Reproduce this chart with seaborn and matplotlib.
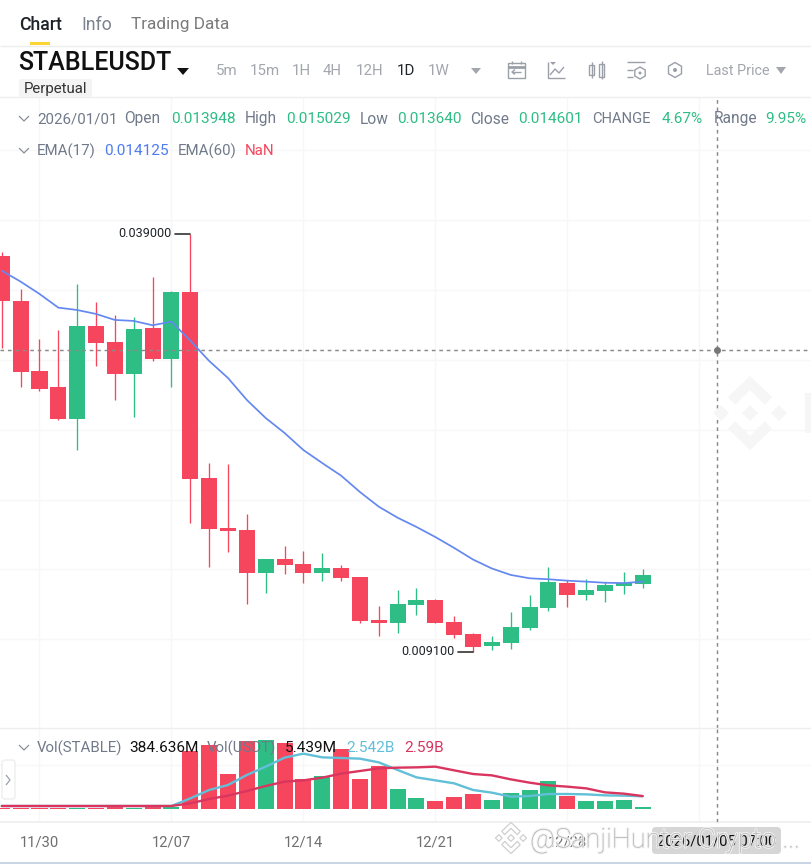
import matplotlib
matplotlib.use('Agg')
import matplotlib.pyplot as plt
from matplotlib.patches import Polygon, Rectangle, FancyBboxPatch, RegularPolygon, Circle
import matplotlib.patheffects as pe
import pandas as pd
import seaborn as sns

# day number 0 is 11/30
days = list(range(-2, 33))
opens = [.03744, .03418, .02919, .02807, .02574, .03243, .03124, .02896, .03224, .03005,
         .03482, .02152, .01794, .01780, .01473, .01577, .01541, .01473, .01513, .01446,
         .01139, .01115, .01246, .01282, .01127, .01037, .00951, .00974, .01084, .01227,
         .01405, .01318, .01348, .01380, .013948]
closes = [.03420, .02910, .02790, .02574, .03243, .03117, .02898, .03219, .03005, .03482,
          .02145, .01787, .01773, .01473, .01577, .01534, .01473, .01513, .01439, .01132,
          .01115, .01253, .01284, .01119, .01029, .00948, .00982, .01091, .01232, .01408,
          .01320, .01355, .01387, .01403, .014601]
highs = [.03772, .03505, .03146, .03210, .03541, .03413, .03320, .03303, .03589, .03491,
         .03900, .02259, .02254, .01897, .01577, .01670, .01630, .01616, .01532, .01448,
         .01241, .01351, .01365, .01289, .01167, .01048, .01024, .01198, .01318, .01520,
         .01425, .01432, .01408, .01480, .015029]
lows = [.03086, .02803, .02776, .02570, .02354, .02955, .02710, .02592, .02991, .02805,
        .01830, .01520, .01623, .01253, .01334, .01470, .01403, .01416, .01420, .01119,
        .01027, .01044, .01175, .01117, .01008, .00910, .00924, .00934, .01067, .01205,
        .01230, .01284, .01270, .01323, .013640]
ema17 = [.03636, .03558, .03470, .03372, .03355, .03327, .03284, .03277, .03246, .03272,
         .03136, .02991, .02869, .02712, .02583, .02476, .02354, .02261, .02171, .02054,
         .01949, .01870, .01804, .01732, .01654, .01571, .01507, .01461, .01437, .01430,
         .01420, .01413, .01405, .01403, .014125]
# volume in billions
volume = [.3, .3, .3, .2, .2, .2, .4, .3, .9, .5,
          11.67, 12.8, 7.07, 13.67, 13.87, 13.13, 5.93, 6.67, 12.0, 6.0,
          8.53, 3.93, 2.2, 1.6, 2.4, 3.0, 1.8, 3.27, 3.8, 5.6,
          2.6, 1.67, 1.53, 1.8, .385]
vol_ma_a = [.6, .6, .6, .6, .6, .6, .6, .6, .6, .6,
            2.13, 3.8, 4.8, 6.8, 8.47, 10.27, 11.07, 10.33, 10.2, 10.07,
            9.33, 7.8, 6.33, 5.73, 5.13, 3.8, 3.27, 2.47, 2.6, 3.0,
            3.0, 2.93, 2.73, 2.67, 2.542]
vol_ma_b = [.6, .6, .6, .6, .6, .6, .6, .6, .6, .6,
            1.13, 2.0, 2.67, 3.6, 4.6, 5.47, 5.73, 6.27, 7.07, 7.6,
            8.13, 8.27, 8.33, 8.47, 7.73, 7.0, 6.73, 5.93, 5.27, 4.73,
            4.47, 4.13, 3.33, 3.07, 2.59]
tick_days = [0, 7, 14, 21, 28]
tick_labels = ['11/30', '12/07', '12/14', '12/21', '12/28']
price_grid = [.01, .015, .02, .025, .03, .035, .04, .045]
cross_day = 35.95
cross_price = 0.030693

GREEN = '#2EBD85'
RED = '#F6465D'
BLUE = '#6488F0'
GRID = '#F7F7F7'
GREY = '#707A8A'
SOFT = '#9A9FA8'

sns.set_theme(style='whitegrid')
plt.rcParams['font.family'] = ['Roboto', 'DejaVu Sans']
plt.rcParams['grid.color'] = GRID

W, H = 811, 864
fig = plt.figure(figsize=(W / 100, H / 100), dpi=100, facecolor='white')
ax = fig.add_axes([0, (H - 728) / H, 1, (728 - 97) / H])
vol_ax = fig.add_axes([0, (H - 822) / H, 1, (822 - 728) / H])

df = pd.DataFrame({'day': days, 'open': opens, 'close': closes, 'high': highs, 'low': lows,
                   'ema': ema17, 'vol': volume, 'ma_a': vol_ma_a, 'ma_b': vol_ma_b})
df['side'] = ['up' if c >= o else 'down' for o, c in zip(opens, closes)]
df['body'] = (df['close'] - df['open']).abs()
df['base'] = df[['open', 'close']].min(axis=1)
colors = {'up': GREEN, 'down': RED}

# candles
for side, sub in df.groupby('side'):
    ax.vlines(sub['day'], sub['low'], sub['high'], color=colors[side], lw=0.95)
    sns.barplot(data=sub, x='day', y='body', bottom=sub['base'].values, native_scale=True,
                color=colors[side], saturation=1, width=0.85, errorbar=None, linewidth=0, ax=ax)
sns.lineplot(data=df, x='day', y='ema', color=BLUE, lw=1.25, errorbar=None, zorder=4, ax=ax)

ax.set_xlim(-2.095, 40.93)
ax.set_ylim(0.003666, 0.04878)
ax.set_xticks([0, 7, 14, 21, 28, 35])
ax.set_yticks(price_grid)
ax.tick_params(labelbottom=False, labelleft=False, length=0)
ax.set_xlabel('')
ax.set_ylabel('')

# high / low marks
ax.plot([7.2, 8.0], [highs[10], highs[10]], color='#333333', lw=1.2)
ax.text(7.0, highs[10], f'{highs[10]:.6f}', ha='right', va='center', fontsize=9.1, color='#1E2329')
ax.plot([22.2, 23.0], [lows[25], lows[25]], color='#333333', lw=1.2)
ax.text(22.0, lows[25], f'{lows[25]:.6f}', ha='right', va='center', fontsize=9.1, color='#1E2329')

# volume panel
sns.barplot(data=df, x='day', y='vol', hue='side', palette=colors, native_scale=True, dodge=False,
            saturation=1, width=0.85, errorbar=None, linewidth=0, legend=False, ax=vol_ax)
sns.lineplot(data=df, x='day', y='ma_a', color='#62BFD8', lw=1.7, errorbar=None, zorder=4, ax=vol_ax)
sns.lineplot(data=df, x='day', y='ma_b', color='#D9355F', lw=1.7, errorbar=None, zorder=5, ax=vol_ax)
vol_ax.set_xlim(-2.095, 40.93)
vol_ax.set_ylim(-2.6, 16.2)
vol_ax.set_yticks([8.8])
vol_ax.set_xticks(tick_days + [35])
vol_ax.set_xticklabels(tick_labels + [''], fontsize=10.6, color='#6F6F6F')
vol_ax.tick_params(axis='x', length=0, pad=10)
vol_ax.tick_params(axis='y', labelleft=False, length=0)
vol_ax.set_xlabel('')
vol_ax.set_ylabel('')

for a in (ax, vol_ax):
    a.set_facecolor('white')
    for s in ('left', 'right', 'bottom'):
        a.spines[s].set_visible(False)
    a.spines['top'].set_color('#EEEEEE')
    a.spines['top'].set_linewidth(1)
    a.axvline(cross_day, color='#8A8A8A', lw=1.05, dashes=(2.5, 2.6), zorder=6)
vol_ax.spines['bottom'].set_visible(True)
vol_ax.spines['bottom'].set_color('#EEEEEE')
ax.axhline(cross_price, color='#8A8A8A', lw=1.05, dashes=(2.5, 2.6), zorder=6)
ax.plot([cross_day], [cross_price], 'o', color='#777777', ms=4, zorder=7)

# page chrome, in pixels
ui = fig.add_axes([0, 0, 1, 1], facecolor='none')
ui.set_xlim(0, W)
ui.set_ylim(H, 0)
ui.axis('off')


def label(x, y, s, size=10.8, color=GREY, ha='left', **kw):
    return ui.text(x, y + 1, s, fontsize=size, color=color, ha=ha, va='center', **kw)


def stroke(xs, ys, color=SOFT, lw=1.0):
    ui.plot(xs, ys, color=color, lw=lw, solid_capstyle='butt')


def chevron(x, y):
    stroke([x - 5, x, x + 5], [y - 3, y + 2, y - 3], color='#8A8F99', lw=0.9)


def binance_logo(cx, cy, k, **style):
    def put(points):
        ui.add_patch(Polygon([(cx + px * k, cy + py * k) for px, py in points], closed=True, **style))
    put([(0, -8), (8, 0), (0, 8), (-8, 0)])
    put([(-29, -8), (-21, 0), (-29, 8), (-37, 0)])
    put([(29, -8), (37, 0), (29, 8), (21, 0)])
    put([(0, -37), (22, -16), (15, -8), (0, -23), (-15, -8), (-22, -16)])
    put([(0, 37), (22, 16), (15, 8), (0, 23), (-15, 8), (-22, 16)])


# tabs
label(19, 24, 'Chart', 12.7, '#1E2329', weight='medium')
label(81, 24, 'Info', 12.7, '#7B8290')
label(131, 24, 'Trading Data', 12.4, '#7B7B7B')
ui.add_patch(Rectangle((30, 42), 20, 3, color='#FCD535', lw=0))
stroke([0, W], [45.5, 45.5], '#EEEEEE', 1)

# symbol row
label(18, 62, 'STABLEUSDT', 18, '#111111', weight='medium')
ui.add_patch(Polygon([(177, 68), (189, 68), (183, 75)], color='#111111', lw=0))
ui.add_patch(FancyBboxPatch((19, 79), 73, 18, boxstyle='round,pad=0,rounding_size=2', color='#F4F4F4', lw=0))
label(24, 87.5, 'Perpetual', 10.8, '#333333')
for x, s in zip([216, 250, 292, 323, 356, 428], ['5m', '15m', '1H', '4H', '12H', '1W']):
    label(x, 70, s, 10.8, '#A3A6AD')
label(397, 70, '1D', 10.8, '#1E2329')
ui.add_patch(Polygon([(471, 68), (481, 68), (476, 74)], color='#A3A6AD', lw=0))
label(706, 70, 'Last Price', 10.4, '#A3A6AD')
ui.add_patch(Polygon([(776, 67), (786, 67), (781, 74)], color='#A3A6AD', lw=0))

# toolbar icons
ui.add_patch(Rectangle((508, 63), 17, 15, fill=False, ec=SOFT, lw=1))
stroke([508, 525], [67, 67], SOFT, 2)
stroke([512, 512], [61, 64])
stroke([521, 521], [61, 64])
stroke([512, 521], [72, 72])
stroke([515, 512, 515], [69.5, 72, 74.5])
stroke([548, 548, 565], [62, 78, 78])
stroke([550, 555, 559, 564], [75, 69, 73, 67])
ui.add_patch(Polygon([(550, 62), (556, 62), (553, 65)], color=SOFT, lw=0))
ui.add_patch(Rectangle((589, 65), 5, 10, fill=False, ec=SOFT, lw=1))
ui.add_patch(Rectangle((599, 64), 5, 13, fill=False, ec=SOFT, lw=1))
stroke([591.5, 591.5], [62, 78])
stroke([601.5, 601.5], [61, 79])
stroke([627, 645], [62, 62])
stroke([627, 633], [70, 70])
stroke([627, 633], [77, 77])
ui.add_patch(RegularPolygon((640, 73), 6, radius=6, fill=False, ec=SOFT, lw=1))
ui.add_patch(Circle((640, 73), 1.5, color=SOFT, lw=0))
ui.add_patch(RegularPolygon((675, 70), 6, radius=7.5, fill=False, ec=SOFT, lw=1))
ui.add_patch(Circle((675, 70), 2, color=SOFT, lw=0))

# legend rows
chevron(24, 119)
label(37, 118, '2026/01/01')
row = [(124, 'Open', 171, '0.013948'), (245, 'High', 286, '0.015029'), (360, 'Low', 397, '0.013640'),
       (470, 'Close', 518, '0.014601'), (592, 'CHANGE', 662, '4.67%'), (714, 'Range', 765, '9.95%')]
for x1, name, x2, value in row:
    label(x1, 118, name, 10.6 if name == 'CHANGE' else 11.2)
    label(x2, 118, value, 11.1, GREEN)
chevron(24, 151)
label(37, 150, 'EMA(17)')
label(104, 150, '0.014125', 11.1, '#4E7BEE')
label(178, 150, 'EMA(60)')
label(245, 150, 'NaN', color=RED)

chevron(24, 748)
label(37, 747.5, 'Vol(STABLE)')
label(129, 747.5, '384.636M', 11.1, '#111111')
label(207, 747.5, 'Vol(USDT)')
label(285, 747.5, '5.439M', 11.1, '#111111')
label(346, 747.5, '2.542B', 11.1, '#62BFD8')
label(404, 747.5, '2.59B', 11.1, '#D9355F')
ui.add_patch(FancyBboxPatch((2, 760), 13, 39, boxstyle='round,pad=0,rounding_size=3', fc='white', ec='#EEEEEE', lw=1))
stroke([6, 10, 6], [775, 780, 785], '#9A9FA8', 0.9)

# watermarks
binance_logo(750, 413, 1, color='#F6F6F6', lw=0)
ui.add_patch(Rectangle((805, 393), 6, 40, color='#F6F6F6', lw=0))
ui.add_patch(FancyBboxPatch((652, 827), 129, 27, boxstyle='round,pad=0,rounding_size=4', color='#D6D6D6', lw=0))
label(717, 840, '2026/01/05 07:00', 10.6, '#111111', ha='center')
binance_logo(511, 838, 0.42, fc='white', ec='#CFCFCF', lw=0.9)
mark = label(530, 839, '@SanjiHunter Crypto ...', 19.5, '#ADADAD', alpha=0.9, weight='light')
mark.set_path_effects([pe.withStroke(linewidth=1.6, foreground='#F2F2F2')])

# window edge
stroke([0, W], [862.5, 862.5], '#C9D4E6', 1.4)

fig.savefig('out.png', dpi=100)
